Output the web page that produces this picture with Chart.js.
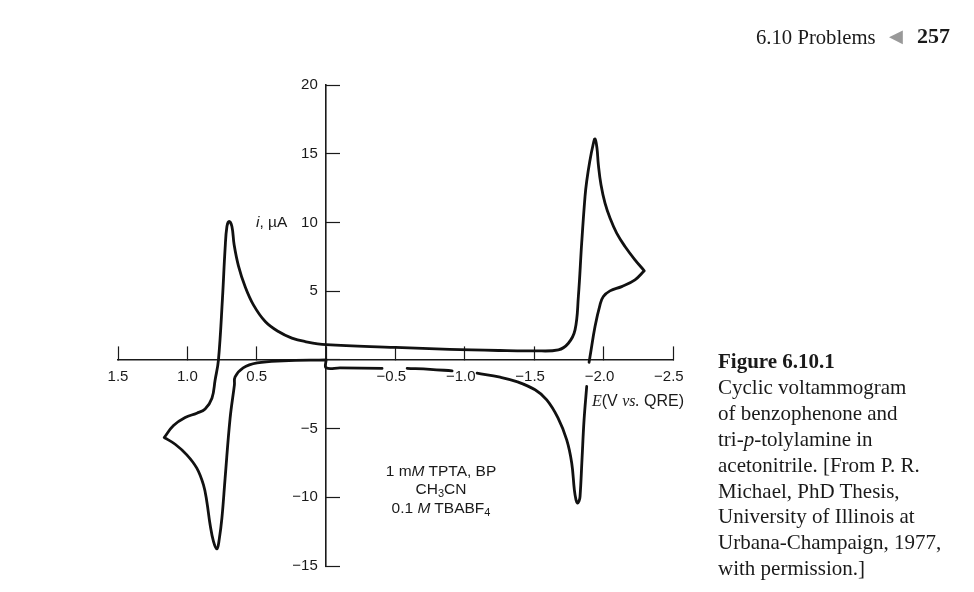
<!DOCTYPE html>
<html>
<head>
<meta charset="utf-8">
<script src="https://cdn.jsdelivr.net/npm/chart.js@4"></script>
<style>
html, body { margin: 0; padding: 0; background: #fff; }
#wrap { position: relative; width: 974px; height: 592px; overflow: hidden; color: #1a1a1a; }
canvas { position: absolute; left: 0; top: 0; }
.t { position: absolute; white-space: nowrap; }
.sans { font-family: "Liberation Sans", sans-serif; font-size: 15.5px; line-height: 15px; }
.serif { font-family: "Liberation Serif", serif; }
.ctr { left: 366px; width: 150px; text-align: center; }
sub { font-size: 11px; line-height: 0; vertical-align: -3px; }
#caption { left: 718px; top: 349px; font-size: 21px; line-height: 25.9px; }
</style>
</head>
<body>
<div id="wrap">
  <canvas id="cv" width="974" height="592"></canvas>
  <div class="t serif" style="left:756px;top:26px;font-size:20.7px;line-height:22px">6.10 Problems</div>
  <div class="t serif" style="left:889px;top:27px;font-size:18px;line-height:18px;color:#999">&#9664;</div>
  <div class="t serif" style="left:917px;top:24px;font-size:22px;line-height:24px;font-weight:bold">257</div>
  <div class="t sans" style="left:256px;top:214px"><i>i</i>, &micro;A</div>
  <div class="t sans" style="left:592px;top:393px;font-size:16px"><i class="serif">E</i>(V <i class="serif">vs.</i> QRE)</div>
  <div class="t sans ctr" style="top:463px">1 m<i>M</i> TPTA, BP</div>
  <div class="t sans ctr" style="top:481px">CH<sub>3</sub>CN</div>
  <div class="t sans ctr" style="top:500px">0.1 <i>M</i> TBABF<sub>4</sub></div>
  <div class="t serif" id="caption">
    <b>Figure 6.10.1</b><br>
    Cyclic voltammogram<br>
    of benzophenone and<br>
    tri-<i>p</i>-tolylamine in<br>
    acetonitrile. [From P. R.<br>
    Michael, PhD Thesis,<br>
    University of Illinois at<br>
    Urbana-Champaign, 1977,<br>
    with permission.]
  </div>
</div>
<script>
// potential (V) and current (uA) along the sweep, null = break in the printed line
const potentials = [
  0, 0, -0.101, -0.403, -0.49, -0.584, -0.749, -0.908, -0.99, -1.088, -1.254, -1.374, -1.506, -1.590, -1.671,
  -1.734, -1.770, -1.789, -1.801, -1.811, -1.823, -1.830, -1.844, -1.859, -1.878, -1.89, -1.895, -1.902,
  -1.938, -1.974, -1.998, -2.046, -2.130, -2.226, -2.293, -2.293,
  -2.226, -2.154, -2.094, -2.046, -2.010, -1.981, -1.962, -1.952, -1.938, -1.924, -1.900, -1.878, -1.866,
  -1.842, -1.818, -1.794, -1.746, -1.674, -1.494, -1.254, -0.89, -0.50, 0, 0.151, 0.247, 0.344,
  0.439, 0.524, 0.584, 0.632, 0.663, 0.679, 0.699, 0.715, 0.728, 0.747, 0.776, 0.800, 0.823, 0.872, 0.932, 1.016, 1.100,
  1.167, 1.167, 1.088, 1.004, 0.932, 0.884, 0.860, 0.836, 0.812, 0.787, 0.771, 0.751, 0.728, 0.692, 0.661,
  0.656, 0.598, 0.497, 0.310, 0
];
const currents = [
  0, -0.58, -0.58, -0.62, null, -0.62, -0.69, -0.80, null, -0.97, -1.26, -1.58, -2.18, -2.91, -4.22,
  -5.82, -7.50, -9.46, -10.19, -10.43, -10.26, -9.95, -7.28, -4.37, -1.94, null, -0.18, 0.24,
  2.42, 4.0, 4.61, 5.02, 5.33, 5.82, 6.48, 6.48,
  7.28, 8.25, 9.22, 10.32, 11.40, 12.74, 14.20, 15.41, 16.08, 15.65, 14.44, 13.00, 11.89,
  8.52, 4.61, 2.18, 1.21, 0.73, 0.66, 0.68, 0.76, 0.91, 1.11, 1.33, 1.58, 2.06,
  2.79, 4.00, 5.33, 6.84, 8.37, 9.70, 10.07, 9.70, 8.12, 4.49, 0, -1.46, -2.79, -3.57, -3.88, -4.20, -4.78,
  -5.65, -5.65, -6.14, -6.91, -7.88, -9.10, -10.3, -12.0, -13.2, -13.76, -13.1, -11.5, -8.61, -4.24, -1.82,
  -1.24, -0.58, -0.22, -0.07, 0
];
// the trailing no-break spaces hold the labels off the axis the way the figure does
const xTickLabels = { '1.5': '1.5', '1': '1.0', '0.5': '0.5', '-0.5': '\u22120.5\u00a0\u00a0', '-1': '\u22121.0\u00a0\u00a0', '-1.5': '\u22121.5\u00a0\u00a0', '-2': '\u22122.0\u00a0\u00a0', '-2.5': '\u22122.5\u00a0\u00a0' };
const yTickLabels = { '20': '20\u00a0\u00a0', '15': '15\u00a0\u00a0', '10': '10\u00a0\u00a0', '5': '5\u00a0\u00a0', '-5': '\u22125\u00a0\u00a0', '-10': '\u221210\u00a0\u00a0', '-15': '\u221215\u00a0\u00a0' };

const ink = '#1a1a1a';
const tickFont = { family: '"Liberation Sans", sans-serif', size: 15 };

function noPadding(scale) {
  scale.paddingTop = 0;
  scale.paddingBottom = 0;
  scale.paddingLeft = 0;
  scale.paddingRight = 0;
}

new Chart(document.getElementById('cv').getContext('2d'), {
  type: 'scatter',
  data: {
    datasets: [{
      data: potentials.map((e, i) => ({ x: e, y: currents[i] })),
      showLine: true,
      spanGaps: false,
      borderColor: '#111',
      borderWidth: 2.8,
      tension: 0.4,
      pointRadius: 0,
      borderCapStyle: 'round',
      borderJoinStyle: 'round'
    }]
  },
  options: {
    responsive: false,
    animation: false,
    layout: { padding: { left: 118, right: 301, top: 85, bottom: 26 } },
    plugins: { legend: { display: false }, tooltip: { enabled: false } },
    scales: {
      x: {
        type: 'linear',
        reverse: true,
        min: -2.5,
        max: 1.5,
        position: { y: 0 },
        afterFit: noPadding,
        border: { color: ink, width: 1.4 },
        grid: { drawOnChartArea: false, tickLength: -14, color: ink, tickWidth: 1.2 },
        ticks: {
          stepSize: 0.5,
          padding: 22,
          color: ink,
          font: tickFont,
          maxRotation: 0,
          autoSkip: false,
          callback: v => xTickLabels[String(v)] || ''
        }
      },
      y: {
        type: 'linear',
        min: -15,
        max: 20,
        position: { x: 0 },
        afterFit: noPadding,
        border: { color: ink, width: 1.6 },
        grid: { drawOnChartArea: false, tickLength: -15, color: ink, tickWidth: 1.2 },
        ticks: {
          stepSize: 5,
          padding: 25,
          color: ink,
          font: tickFont,
          autoSkip: false,
          callback: v => (yTickLabels[String(v)] || '')
        }
      }
    }
  }
});
</script>
</body>
</html>
